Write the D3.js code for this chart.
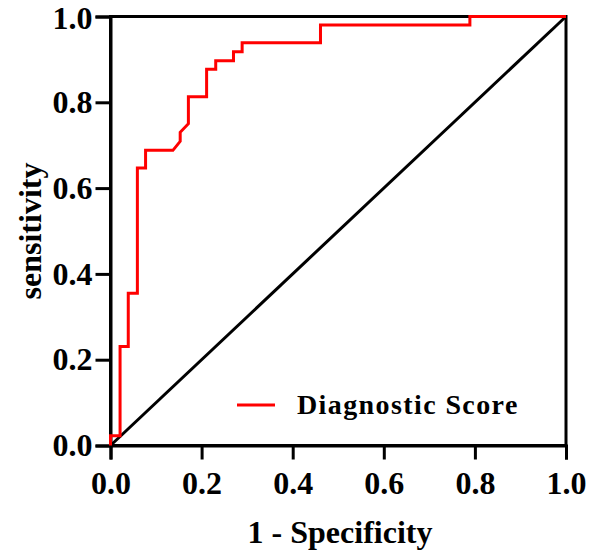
<!DOCTYPE html>
<html>
<head>
<meta charset="utf-8">
<script src="https://cdn.jsdelivr.net/npm/d3@7"></script>
<style>
html,body{margin:0;padding:0;background:#fff;}
svg{display:block;}
text{font-family:"Liberation Serif","Times New Roman",serif;font-weight:bold;fill:#000;}
</style>
</head>
<body>
<svg id="chart" width="590" height="556"></svg>
<script>
// ROC curve points (1 - specificity, sensitivity)
const fpr = [0,0,0.021,0.021,0.039,0.039,0.059,0.059,0.077,0.077,0.137,0.153,0.153,0.171,0.171,0.211,0.211,0.231,0.231,0.270,0.270,0.289,0.289,0.461,0.461,0.789,0.789,1];
const tpr = [0,0.023,0.023,0.231,0.231,0.355,0.355,0.647,0.647,0.688,0.688,0.709,0.730,0.750,0.813,0.813,0.877,0.877,0.897,0.897,0.918,0.918,0.939,0.939,0.980,0.980,1,1];
const refLine = [[0,0],[1,1]];
const xTicks = [0,0.2,0.4,0.6,0.8,1.0];
const yTicks = [0,0.2,0.4,0.6,0.8,1.0];
const seriesName = "Diagnostic Score";
const xTitle = "1 - Specificity";
const yTitle = "sensitivity";

const svg = d3.select("#chart");
const x = d3.scaleLinear().domain([0,1]).range([110.5,566]);
const y = d3.scaleLinear().domain([0,1]).range([445.5,16.5]);

// frame
svg.append("rect")
  .attr("x", x(0)).attr("y", y(1))
  .attr("width", x(1)-x(0)).attr("height", y(0)-y(1))
  .attr("fill","none").attr("stroke","#000").attr("stroke-width",3);

// x axis
const xAxis = svg.append("g").attr("transform",`translate(0,${y(0)})`)
  .call(d3.axisBottom(x).tickValues(xTicks).tickFormat(d3.format(".1f")).tickSize(14).tickPadding(12));
xAxis.select(".domain").attr("stroke-width",3);
xAxis.selectAll(".tick line").attr("stroke-width",3);
xAxis.selectAll(".tick text").attr("font-size",32).attr("font-family","Liberation Serif").attr("font-weight","bold").attr("fill","#000");

// y axis
const yAxis = svg.append("g").attr("transform",`translate(${x(0)},0)`)
  .call(d3.axisLeft(y).tickValues(yTicks).tickFormat(d3.format(".1f")).tickSize(15).tickPadding(3));
yAxis.select(".domain").attr("stroke-width",3);
yAxis.selectAll(".tick line").attr("stroke-width",3);
yAxis.selectAll(".tick text").attr("font-size",32).attr("font-family","Liberation Serif").attr("font-weight","bold").attr("fill","#000")
  .attr("dy", d => d === 1 ? "0.38em" : "0.32em");

// reference diagonal
svg.append("path")
  .attr("d", d3.line().x(d=>x(d[0])).y(d=>y(d[1]))(refLine))
  .attr("fill","none").attr("stroke","#000").attr("stroke-width",3);

// ROC curve
const pts = fpr.map((f,i)=>[f,tpr[i]]);
svg.append("path")
  .attr("d", d3.line().x(d=>x(d[0])).y(d=>y(d[1]))(pts))
  .attr("fill","none").attr("stroke","#ff0000").attr("stroke-width",3).attr("stroke-linejoin","miter");

// legend
svg.append("line").attr("x1",237).attr("x2",275).attr("y1",405).attr("y2",405)
  .attr("stroke","#ff0000").attr("stroke-width",3);
svg.append("text").attr("x",297).attr("y",414).attr("font-size",28).attr("letter-spacing",1.4)
  .text(seriesName);

// axis titles
svg.append("text").attr("x",340).attr("y",543).attr("text-anchor","middle").attr("font-size",32)
  .text(xTitle);
svg.append("text").attr("transform","translate(41,231) rotate(-90)").attr("text-anchor","middle").attr("font-size",32)
  .text(yTitle);
</script>
</body>
</html>
